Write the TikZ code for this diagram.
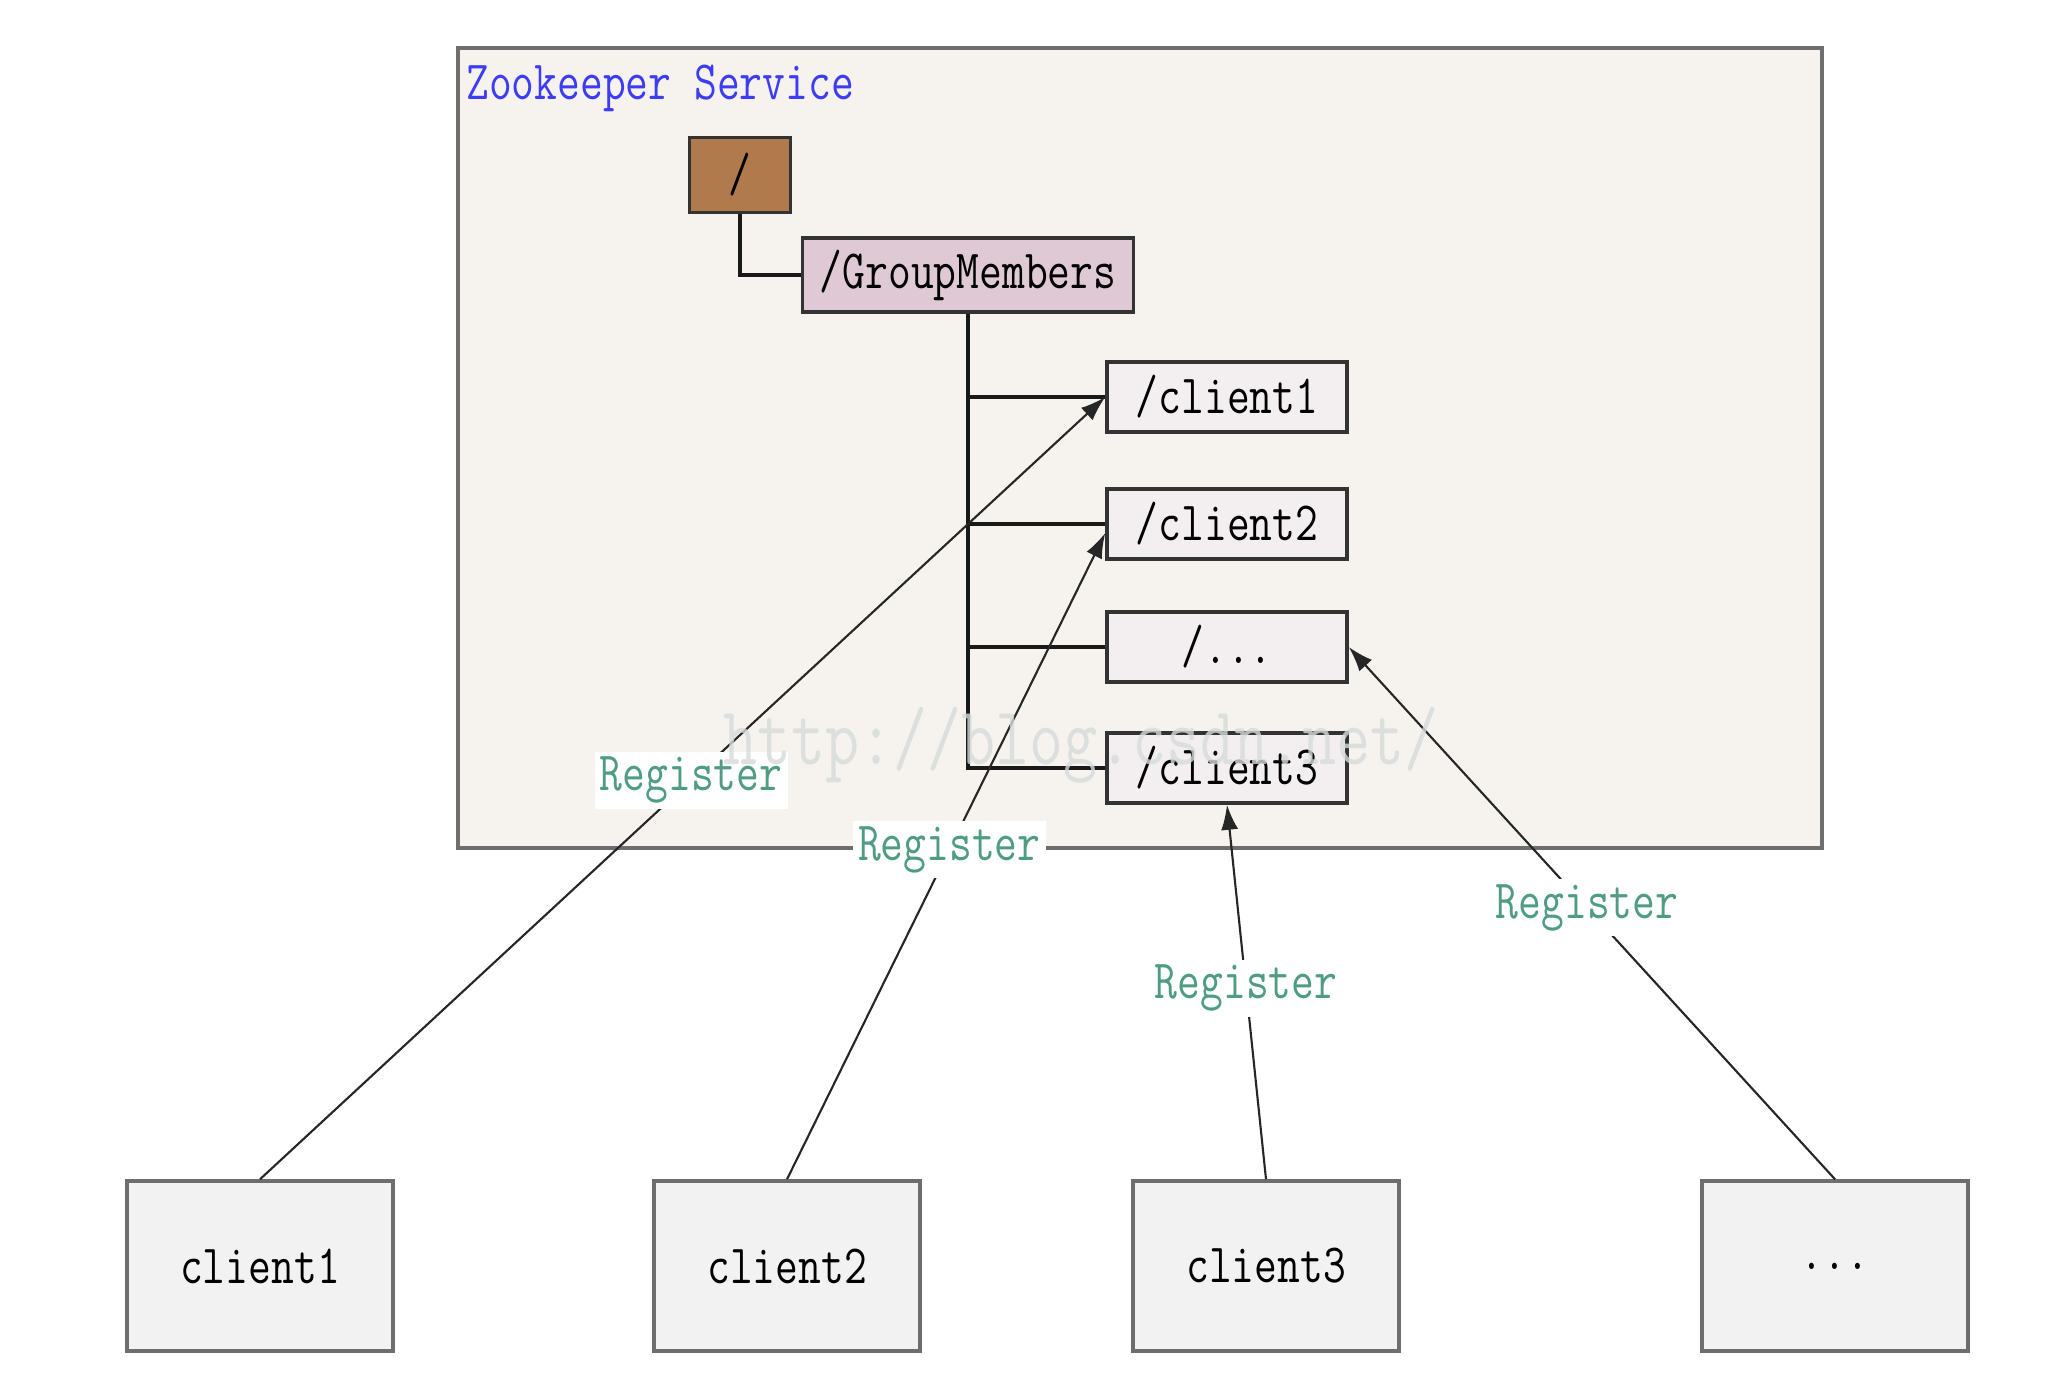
\documentclass[tikz,border=0pt]{standalone}
\usepackage{fontspec}
\setmonofont[FakeStretch=0.8]{Latin Modern Mono}
\usetikzlibrary{arrows.meta}
\definecolor{svcfill}{HTML}{F6F2EE}
\definecolor{svcline}{HTML}{6E6E6E}
\definecolor{rootfill}{HTML}{B07A4C}
\definecolor{groupfill}{HTML}{DFC9D4}
\definecolor{znodefill}{HTML}{F3EFF1}
\definecolor{clientfill}{HTML}{F2F2F2}
\definecolor{regtext}{HTML}{4F9C84}
\definecolor{svctext}{HTML}{3C3CF5}
\definecolor{wmtext}{HTML}{D5DBDA}
\tikzset{
	txt/.style={font=\ttfamily\fontsize{31.5}{31.5}\selectfont},
	znode/.style={txt, draw=black!80, line width=2pt, fill=znodefill, minimum width=4.8cm, minimum height=1.4cm, inner sep=0pt},
	client/.style={txt, draw=svcline, line width=2pt, fill=clientfill, minimum width=5.32cm, minimum height=3.4cm},
	reg/.style={txt, text=regtext, fill=white, inner sep=3pt},
	regline/.style={-{Latex[length=0.5cm,width=0.34cm]}, line width=1.2pt, black!85},
	tree/.style={line width=2pt, black!90},
}

\begin{document}
\begin{tikzpicture}[x=0.02cm, y=-0.02cm]
		%%%%% START %%%%%
		
		\fill[white] (0, 0) rectangle (2050, 1373);
		\useasboundingbox (0, 0) rectangle (2050, 1373);
		
		\draw[line width=2.4pt, color=svcline, fill=svcfill] (458, 48) rectangle (1822, 848);
		\node[txt, text=svctext, anchor=west, inner sep=0pt] (title) at (466, 88) {Zookeeper Service};
		
		\node[znode, fill=rootfill, minimum width=2.02cm, minimum height=1.5cm] (root) at (740, 175) {/};
		\node[znode, fill=groupfill, minimum width=6.62cm, minimum height=1.48cm] (group) at (968, 275) {/GroupMembers};
		
		\node[znode] (c1) at (1227, 397) {/client1};
		\node[znode] (c2) at (1227, 524) {/client2};
		\node[znode] (cdots) at (1227, 647) {/...};
		\node[znode] (c3) at (1227, 768) {/client3};
		
		\draw[tree] (root.south) |- (group.west);
		\draw[tree] (group.south) |- (c3.west);
		\foreach \n in {c1, c2, cdots}
			\draw[tree] (group.south |- \n.west) -- (\n.west);
		
		\node[client] (cl1) at (260, 1266) {client1};
		\node[client] (cl2) at (787, 1266) {client2};
		\node[client] (cl3) at (1266, 1266) {client3};
		\node[client] (cldots) at (1835, 1266) {...};
		
		\draw[regline] (cl1.north) -- node[reg, pos=0.51] {Register} (c1.west);
		\draw[regline] (cl2.north) -- node[reg, pos=0.51] {Register} ([yshift=-0.18cm]c2.west);
		\draw[regline] (cl3.north) -- node[reg, pos=0.51] {Register} (c3.south);
		\draw[regline] (cldots.north) -- node[reg, pos=0.51] {Register} (cdots.east);
		
		\node[txt, text=wmtext, opacity=0.8, font=\ttfamily\fontsize{47}{47}\selectfont] (mark) at (1081, 745) {http://blog.csdn.net/};
		
		%%%%% END %%%%%
\end{tikzpicture}
\end{document}
